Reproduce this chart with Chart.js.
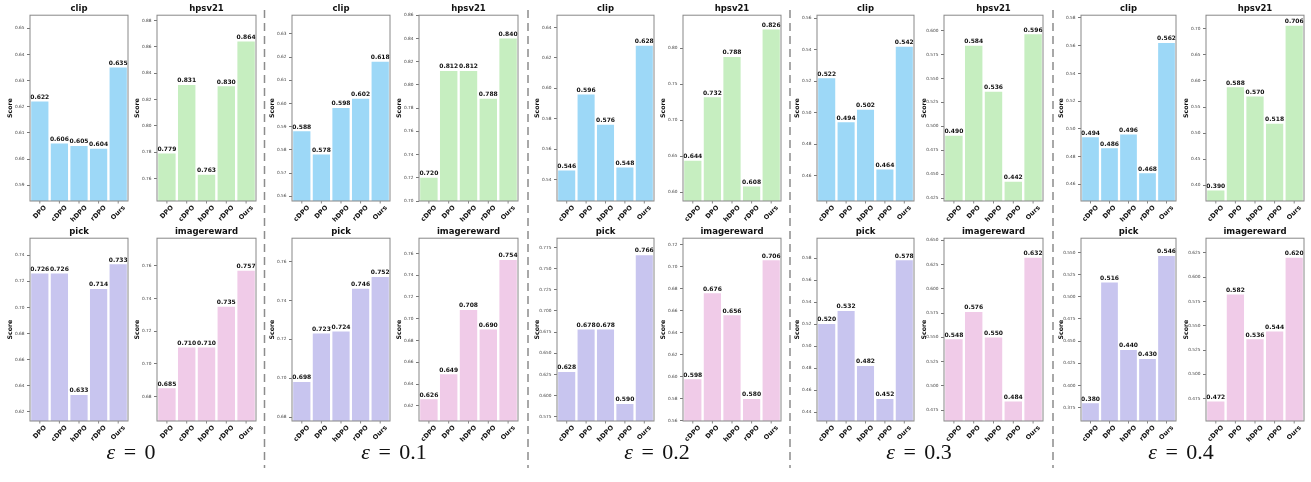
<!DOCTYPE html>
<html>
<head>
<meta charset="utf-8">
<script src="https://cdn.jsdelivr.net/npm/chart.js@4"></script>
<style>
  html, body { margin: 0; padding: 0; background: #fff; }
  body { width: 1311px; height: 482px; position: relative; overflow: hidden; }
  canvas { position: absolute; }
  .eps { position: absolute; top: 441px; font-family: 'Liberation Serif', serif; font-size: 22px; line-height: 22px;
         transform: translateX(-50%); white-space: nowrap; color: #111; word-spacing: 3px; }
  svg { position: absolute; left: 0; top: 0; }
</style>
</head>
<body>
<svg id="seps" width="1311" height="482"></svg>
<script>
// data
const epsilons = ['0', '0.1', '0.2', '0.3', '0.4'];
const methodsEps0 = ['DPO', 'cDPO', 'hDPO', 'rDPO', 'Ours'];
const methodsOther = ['cDPO', 'DPO', 'hDPO', 'rDPO', 'Ours'];

const clipScores = [
  [0.622, 0.606, 0.605, 0.604, 0.635],
  [0.588, 0.578, 0.598, 0.602, 0.618],
  [0.546, 0.596, 0.576, 0.548, 0.628],
  [0.522, 0.494, 0.502, 0.464, 0.542],
  [0.494, 0.486, 0.496, 0.468, 0.562]
];
const hpsvScores = [
  [0.779, 0.831, 0.763, 0.830, 0.864],
  [0.720, 0.812, 0.812, 0.788, 0.840],
  [0.644, 0.732, 0.788, 0.608, 0.826],
  [0.490, 0.584, 0.536, 0.442, 0.596],
  [0.390, 0.588, 0.570, 0.518, 0.706]
];
const pickScores = [
  [0.726, 0.726, 0.633, 0.714, 0.733],
  [0.698, 0.723, 0.724, 0.746, 0.752],
  [0.628, 0.678, 0.678, 0.590, 0.766],
  [0.520, 0.532, 0.482, 0.452, 0.578],
  [0.380, 0.516, 0.440, 0.430, 0.546]
];
const imagerewardScores = [
  [0.685, 0.710, 0.710, 0.735, 0.757],
  [0.626, 0.649, 0.708, 0.690, 0.754],
  [0.598, 0.676, 0.656, 0.580, 0.706],
  [0.548, 0.576, 0.550, 0.484, 0.632],
  [0.472, 0.582, 0.536, 0.544, 0.620]
];

const clipTicks = [
  ['0.59', '0.60', '0.61', '0.62', '0.63', '0.64', '0.65'],
  ['0.56', '0.57', '0.58', '0.59', '0.60', '0.61', '0.62', '0.63'],
  ['0.54', '0.56', '0.58', '0.60', '0.62', '0.64'],
  ['0.46', '0.48', '0.50', '0.52', '0.54', '0.56'],
  ['0.46', '0.48', '0.50', '0.52', '0.54', '0.56', '0.58']
];
const hpsvTicks = [
  ['0.76', '0.78', '0.80', '0.82', '0.84', '0.86', '0.88'],
  ['0.70', '0.72', '0.74', '0.76', '0.78', '0.80', '0.82', '0.84', '0.86'],
  ['0.60', '0.65', '0.70', '0.75', '0.80'],
  ['0.425', '0.450', '0.475', '0.500', '0.525', '0.550', '0.575', '0.600'],
  ['0.40', '0.45', '0.50', '0.55', '0.60', '0.65', '0.70']
];
const pickTicks = [
  ['0.62', '0.64', '0.66', '0.68', '0.70', '0.72', '0.74'],
  ['0.68', '0.70', '0.72', '0.74', '0.76'],
  ['0.575', '0.600', '0.625', '0.650', '0.675', '0.700', '0.725', '0.750', '0.775'],
  ['0.44', '0.46', '0.48', '0.50', '0.52', '0.54', '0.56', '0.58'],
  ['0.375', '0.400', '0.425', '0.450', '0.475', '0.500', '0.525', '0.550']
];
const imagerewardTicks = [
  ['0.68', '0.70', '0.72', '0.74', '0.76'],
  ['0.62', '0.64', '0.66', '0.68', '0.70', '0.72', '0.74', '0.76'],
  ['0.56', '0.58', '0.60', '0.62', '0.64', '0.66', '0.68', '0.70', '0.72'],
  ['0.475', '0.500', '0.525', '0.550', '0.575', '0.600', '0.625', '0.650'],
  ['0.475', '0.500', '0.525', '0.550', '0.575', '0.600', '0.625']
];

const metricNames = ['clip', 'hpsv21', 'pick', 'imagereward'];
const metricScores = [clipScores, hpsvScores, pickScores, imagerewardScores];
const metricTicks = [clipTicks, hpsvTicks, pickTicks, imagerewardTicks];
const metricColors = ['#9dd8f7', '#c6eec0', '#c8c5ef', '#f0cbe8'];

// layout (px)
const boxLeft = [[30, 157], [292, 419], [557, 683], [817, 944], [1081, 1206]];
const boxRight = [[128, 256], [390, 518], [654, 781], [914, 1043], [1176, 1304]];
const rowTop = [0, 223];
const boxBottom = [201, 421];
const epsCenter = [131, 394, 657, 919, 1181];
const sepX = [264.5, 528, 790, 1053];
const yAxisW = 30;
const xAxisH = 24;

const panelDecor = {
  id: 'panelDecor',
  afterDatasetsDraw(chart) {
    const ctx = chart.ctx;
    const bars = chart.getDatasetMeta(0).data;
    const vals = chart.data.datasets[0].data;
    ctx.save();
    ctx.font = 'bold 6px "DejaVu Sans"';
    ctx.fillStyle = '#111';
    ctx.textAlign = 'center';
    ctx.textBaseline = 'bottom';
    bars.forEach((bar, i) => ctx.fillText(vals[i].toFixed(3), bar.x, bar.y - 1.2));
    ctx.restore();
  },
  afterDraw(chart) {
    const { ctx, chartArea: a, scales } = chart;
    ctx.save();
    ctx.strokeStyle = '#888';
    ctx.lineWidth = 1;
    ctx.strokeRect(a.left, a.top, a.right - a.left, a.bottom - a.top);
    ctx.font = 'bold 6.5px "DejaVu Sans"';
    ctx.fillStyle = '#111';
    ctx.textAlign = 'center';
    ctx.textBaseline = 'middle';
    chart.data.labels.forEach((lab, i) => {
      const x = scales.x.getPixelForValue(i);
      ctx.beginPath();
      ctx.moveTo(x, a.bottom);
      ctx.lineTo(x, a.bottom + 2.5);
      ctx.stroke();
      const w = ctx.measureText(lab).width;
      const off = 4 + (w + 5) * Math.SQRT1_2 / 2;
      ctx.save();
      ctx.translate(x, a.bottom + off);
      ctx.rotate(-Math.PI / 4);
      ctx.fillText(lab, 0, 0);
      ctx.restore();
    });
    ctx.restore();
  }
};

function buildPanel(g, row, col) {
  const m = row * 2 + col;
  const values = metricScores[m][g];
  const tickLabels = metricTicks[m][g];
  const tickValues = tickLabels.map(parseFloat);
  const left = boxLeft[g][col] - yAxisW;
  const top = rowTop[row];
  const width = boxRight[g][col] - left + 2;
  const height = boxBottom[row] + xAxisH - top;

  const canvas = document.createElement('canvas');
  canvas.width = width;
  canvas.height = height;
  canvas.style.left = left + 'px';
  canvas.style.top = top + 'px';
  canvas.style.width = width + 'px';
  canvas.style.height = height + 'px';
  document.body.appendChild(canvas);

  new Chart(canvas, {
    type: 'bar',
    data: {
      labels: g === 0 ? methodsEps0 : methodsOther,
      datasets: [{
        data: values,
        backgroundColor: metricColors[m],
        borderWidth: 0,
        categoryPercentage: 1,
        barPercentage: 0.88
      }]
    },
    options: {
      responsive: false,
      animation: false,
      devicePixelRatio: 1,
      layout: { padding: { left: 0, right: 2, top: 0, bottom: xAxisH } },
      plugins: {
        legend: { display: false },
        tooltip: { enabled: false },
        title: {
          display: true,
          text: metricNames[m],
          fullSize: false,
          color: '#111',
          font: { family: 'DejaVu Sans', size: 8.5, weight: 'bold' },
          padding: { top: 4, bottom: 1 }
        }
      },
      scales: {
        x: { display: false },
        y: {
          min: Math.min(...values) - 0.02,
          max: Math.max(...values) + 0.02,
          afterFit(s) { s.width = yAxisW; },
          afterBuildTicks(s) { s.ticks = tickValues.map(v => ({ value: v })); },
          border: { display: false },
          grid: { drawOnChartArea: false, tickLength: 3, color: '#777' },
          ticks: {
            autoSkip: false,
            padding: 2.5,
            color: '#444',
            font: { family: 'DejaVu Sans', size: 4.3 },
            callback: v => tickLabels[tickValues.indexOf(v)]
          },
          title: {
            display: true,
            text: 'Score',
            color: '#111',
            font: { family: 'DejaVu Sans', size: 6.3, weight: 'bold' },
            padding: { top: 6.5, bottom: 0 }
          }
        }
      }
    },
    plugins: [panelDecor]
  });
}

for (let g = 0; g < epsilons.length; g++) {
  for (let row = 0; row < 2; row++) {
    for (let col = 0; col < 2; col++) buildPanel(g, row, col);
  }
  const lab = document.createElement('div');
  lab.className = 'eps';
  lab.style.left = epsCenter[g] + 'px';
  lab.innerHTML = '<i>ε</i> = ' + epsilons[g];
  document.body.appendChild(lab);
}

const svg = document.getElementById('seps');
sepX.forEach(x => {
  const line = document.createElementNS('http://www.w3.org/2000/svg', 'line');
  line.setAttribute('x1', x);
  line.setAttribute('x2', x);
  line.setAttribute('y1', 10);
  line.setAttribute('y2', 468);
  line.setAttribute('stroke', '#8c8c8c');
  line.setAttribute('stroke-width', 1.5);
  line.setAttribute('stroke-dasharray', '8 5');
  svg.appendChild(line);
});
</script>
</body>
</html>
